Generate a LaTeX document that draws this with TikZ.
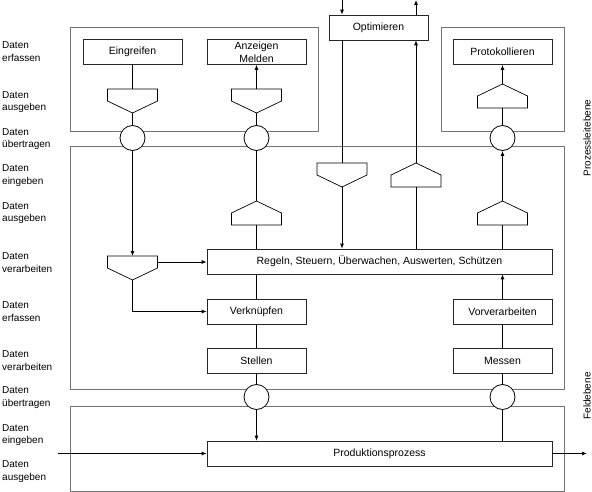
\documentclass[tikz,border=0pt]{standalone}
\usepackage{fontspec}
\setmainfont{Liberation Sans}
\usetikzlibrary{arrows.meta}
\begin{document}
\begin{tikzpicture}[x=1pt,y=-1pt,
  every node/.style={font=\fontsize{10}{12.5}\selectfont, inner sep=0pt},
  frame/.style={draw=black!55, line width=0.9pt},
  box/.style={draw=black!85, line width=0.7pt, fill=white, minimum width=99pt, minimum height=25pt, align=center, font=\fontsize{10.5}{12.5}\selectfont},
  wide/.style={box, minimum width=345pt},
  conn/.style={draw=black, line width=0.8pt},
  arr/.style={conn, -{Latex[length=5pt,width=4pt]}},
  circ/.style={draw=black, line width=0.8pt, fill=white, circle, minimum size=25pt},
  lbl/.style={anchor=west, align=left},
  dtrap/.pic={\draw[line width=0.7pt, fill=white] (-25,-12) -- (25,-12) -- (25,0) -- (0,12) -- (-25,0) -- cycle;
              \coordinate (-top) at (0,-12); \coordinate (-bot) at (0,12); \coordinate (-east) at (25,-6);},
  utrap/.pic={\draw[line width=0.7pt, fill=white] (-25,12) -- (25,12) -- (25,0) -- (0,-12) -- (-25,0) -- cycle;
              \coordinate (-top) at (0,-12); \coordinate (-bot) at (0,12);}
]
\useasboundingbox (0,0) rectangle (592,492);

% frames
\draw[frame] (70,27) rectangle (318,131);
\draw[frame] (441,27) rectangle (564,131);
\draw[frame] (70,146) rectangle (564,389);
\draw[frame] (70,406) rectangle (564,491);

% left labels
\node[lbl] (l1) at (2,51.5) {Daten\\erfassen};
\node[lbl] (l2) at (2,102) {Daten\\ausgeben};
\node[lbl] (l3) at (2,139) {Daten\\übertragen};
\node[lbl] (l4) at (2,175.5) {Daten\\eingeben};
\node[lbl] (l5) at (2,213) {Daten\\ausgeben};
\node[lbl] (l6) at (2,262.5) {Daten\\verarbeiten};
\node[lbl] (l7) at (2,311.5) {Daten\\erfassen};
\node[lbl] (l8) at (2,360.5) {Daten\\verarbeiten};
\node[lbl] (l9) at (2,397.5) {Daten\\übertragen};
\node[lbl] (l10) at (2,435) {Daten\\eingeben};
\node[lbl] (l11) at (2,471.5) {Daten\\ausgeben};

% right labels
\node[rotate=90] (pl) at (587,138) {Prozessleitebene};
\node[rotate=90] (fe) at (587,396) {Feldebene};

% boxes
\node[box] (eing) at (132.5,52) {Eingreifen};
\node[box] (anz) at (256.5,52) {Anzeigen\\Melden};
\node[box] (opt) at (378.5,27.5) {Optimieren};
\node[box] (prot) at (502.5,52) {Protokollieren};
\node[wide] (reg) at (379.5,261.5) {Regeln, Steuern, Überwachen, Auswerten, Schützen};
\node[box] (verk) at (256.5,311.5) {Verknüpfen};
\node[box] (vorv) at (502.5,311.5) {Vorverarbeiten};
\node[box] (stel) at (256.5,360.5) {Stellen};
\node[box] (mess) at (502.5,360.5) {Messen};
\node[wide] (prod) at (379.5,453.5) {Produktionsprozess};

% circles
\node[circ] (cA) at (132.5,138) {};
\node[circ] (cB) at (256.5,138) {};
\node[circ] (cC) at (502.5,138) {};
\node[circ] (cD) at (256.5,397) {};
\node[circ] (cE) at (502.5,397) {};

% trapezoids
\pic (tA) at (132.5,101) {dtrap};
\pic (tB) at (256.5,101) {dtrap};
\pic (tP) at (502.5,96) {utrap};
\pic (tO) at (342,175) {dtrap};
\pic (tU) at (416,175) {utrap};
\pic (tM1) at (256.5,213) {utrap};
\pic (tM2) at (502.5,213) {utrap};
\pic (tL) at (132.5,268) {dtrap};

% free ends
\coordinate (oin) at (342,0);
\coordinate (oout) at (416,0);
\coordinate (pin) at (58,453.5);
\coordinate (pout) at (587,453.5);

% column 1
\draw[conn] (eing.south) -- (tA-top);
\draw[conn] (tA-bot) -- (cA.north);
\draw[arr] (cA.south) -- (tL-top);
\draw[arr] (tL-east) -- (tL-east -| reg.west);
\draw[arr] (tL-bot) |- (verk.west);

% column 2
\draw[arr] (tB-top) -- (anz.south);
\draw[conn] (tB-bot) -- (cB.north);
\draw[conn] (cB.south) -- (tM1-top);
\draw[conn] (tM1-bot) -- (tM1-bot |- reg.north);
\draw[conn] (verk.north |- reg.south) -- (verk.north);
\draw[conn] (verk.south) -- (stel.north);
\draw[conn] (stel.south) -- (cD.north);
\draw[arr] (cD.south) -- (cD.south |- prod.north);

% Optimieren columns
\draw[arr] (oin) -- (oin |- opt.north);
\draw[conn] (oin |- opt.south) -- (tO-top);
\draw[arr] (tO-bot) -- (tO-bot |- reg.north);
\draw[conn] (tU-bot |- reg.north) -- (tU-bot);
\draw[arr] (tU-top) -- (tU-top |- opt.south);
\draw[arr] (oout |- opt.north) -- (oout);

% column right
\draw[conn] (cE.south |- prod.north) -- (cE.south);
\draw[conn] (cE.north) -- (mess.south);
\draw[conn] (mess.north) -- (vorv.south);
\draw[arr] (vorv.north) -- (vorv.north |- reg.south);
\draw[conn] (tM2-bot |- reg.north) -- (tM2-bot);
\draw[arr] (tM2-top) -- (cC.south);
\draw[conn] (cC.north) -- (tP-bot);
\draw[arr] (tP-top) -- (prot.south);

% process in/out
\draw[arr] (pin) -- (prod.west);
\draw[arr] (prod.east) -- (pout);
\end{tikzpicture}
\end{document}
